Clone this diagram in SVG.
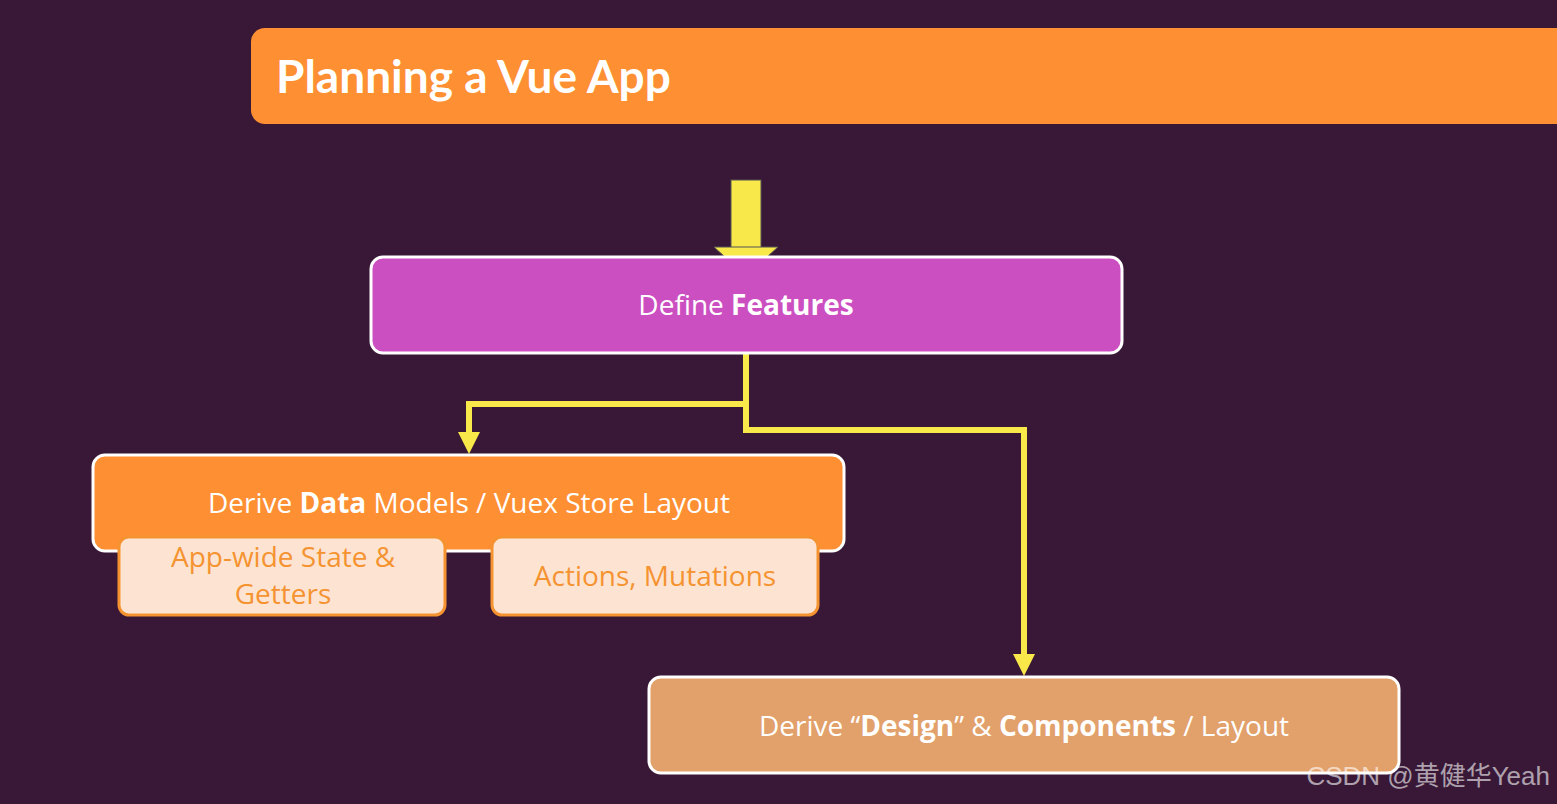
<svg xmlns="http://www.w3.org/2000/svg" width="1557" height="804" viewBox="0 0 1557 804">
<style>
.t{font-family:"Open Sans","Liberation Sans",sans-serif;font-size:28px;text-anchor:middle}
.w{fill:#ffffff}
.o{fill:#f59331}
.b{font-weight:bold}
.ln{fill:none;stroke:#f8e84a;stroke-width:6}
.ah{fill:#f8e84a}
</style>
<rect width="1557" height="804" fill="#381836"/>
<g id="title">
<rect x="251" y="28" width="1330" height="96" rx="14" fill="#fe8f33"/>
<text x="276" y="93" font-family="Lato,'Liberation Sans',sans-serif" font-weight="bold" font-size="46" fill="#fff">Planning a Vue App</text>
</g>
<g id="connectors">
<rect x="731" y="180" width="30" height="68" fill="#f8e84a" stroke="#555" stroke-width="1"/>
<polygon points="714,247 778,247 746,276" fill="#f8e84a" stroke="#555" stroke-width="1"/>
<path class="ln" d="M746,352 V404 H469 V434"/>
<polygon class="ah" points="458,432 480,432 469,454"/>
<path class="ln" d="M746,404 V430 H1024 V656"/>
<polygon class="ah" points="1013,654 1035,654 1024,676"/>
</g>
<g id="features">
<rect x="371" y="257" width="751" height="96" rx="12" fill="#cc4fc1" stroke="#fff" stroke-width="3"/>
<text class="t w" x="746" y="315">Define <tspan class="b">Features</tspan></text>
</g>
<g id="data">
<rect x="93" y="455" width="751" height="96" rx="12" fill="#fe8f33" stroke="#fff" stroke-width="3"/>
<text class="t w" x="469" y="513">Derive <tspan class="b">Data</tspan> Models / Vuex Store Layout</text>
</g>
<g id="state">
<rect x="119" y="537" width="326" height="78" rx="10" fill="#fde4d2" stroke="#f59331" stroke-width="3"/>
<text class="t o" x="283" y="567">App-wide State &amp;</text>
<text class="t o" x="283" y="604">Getters</text>
</g>
<g id="actions">
<rect x="492" y="537" width="326" height="78" rx="10" fill="#fde4d2" stroke="#f59331" stroke-width="3"/>
<text class="t o" x="655" y="586">Actions, Mutations</text>
</g>
<g id="design">
<rect x="649" y="677" width="750" height="96" rx="12" fill="#e2a06a" stroke="#fff" stroke-width="3"/>
<text class="t w" x="1024" y="736">Derive “<tspan class="b">Design</tspan>” &amp; <tspan class="b">Components</tspan> / Layout</text>
</g>
<text x="1550" y="785" text-anchor="end" font-family="'Liberation Sans','Noto Sans CJK SC',sans-serif" font-size="26" fill="#ffffff" fill-opacity="0.6">CSDN @黄健华Yeah</text>
</svg>
